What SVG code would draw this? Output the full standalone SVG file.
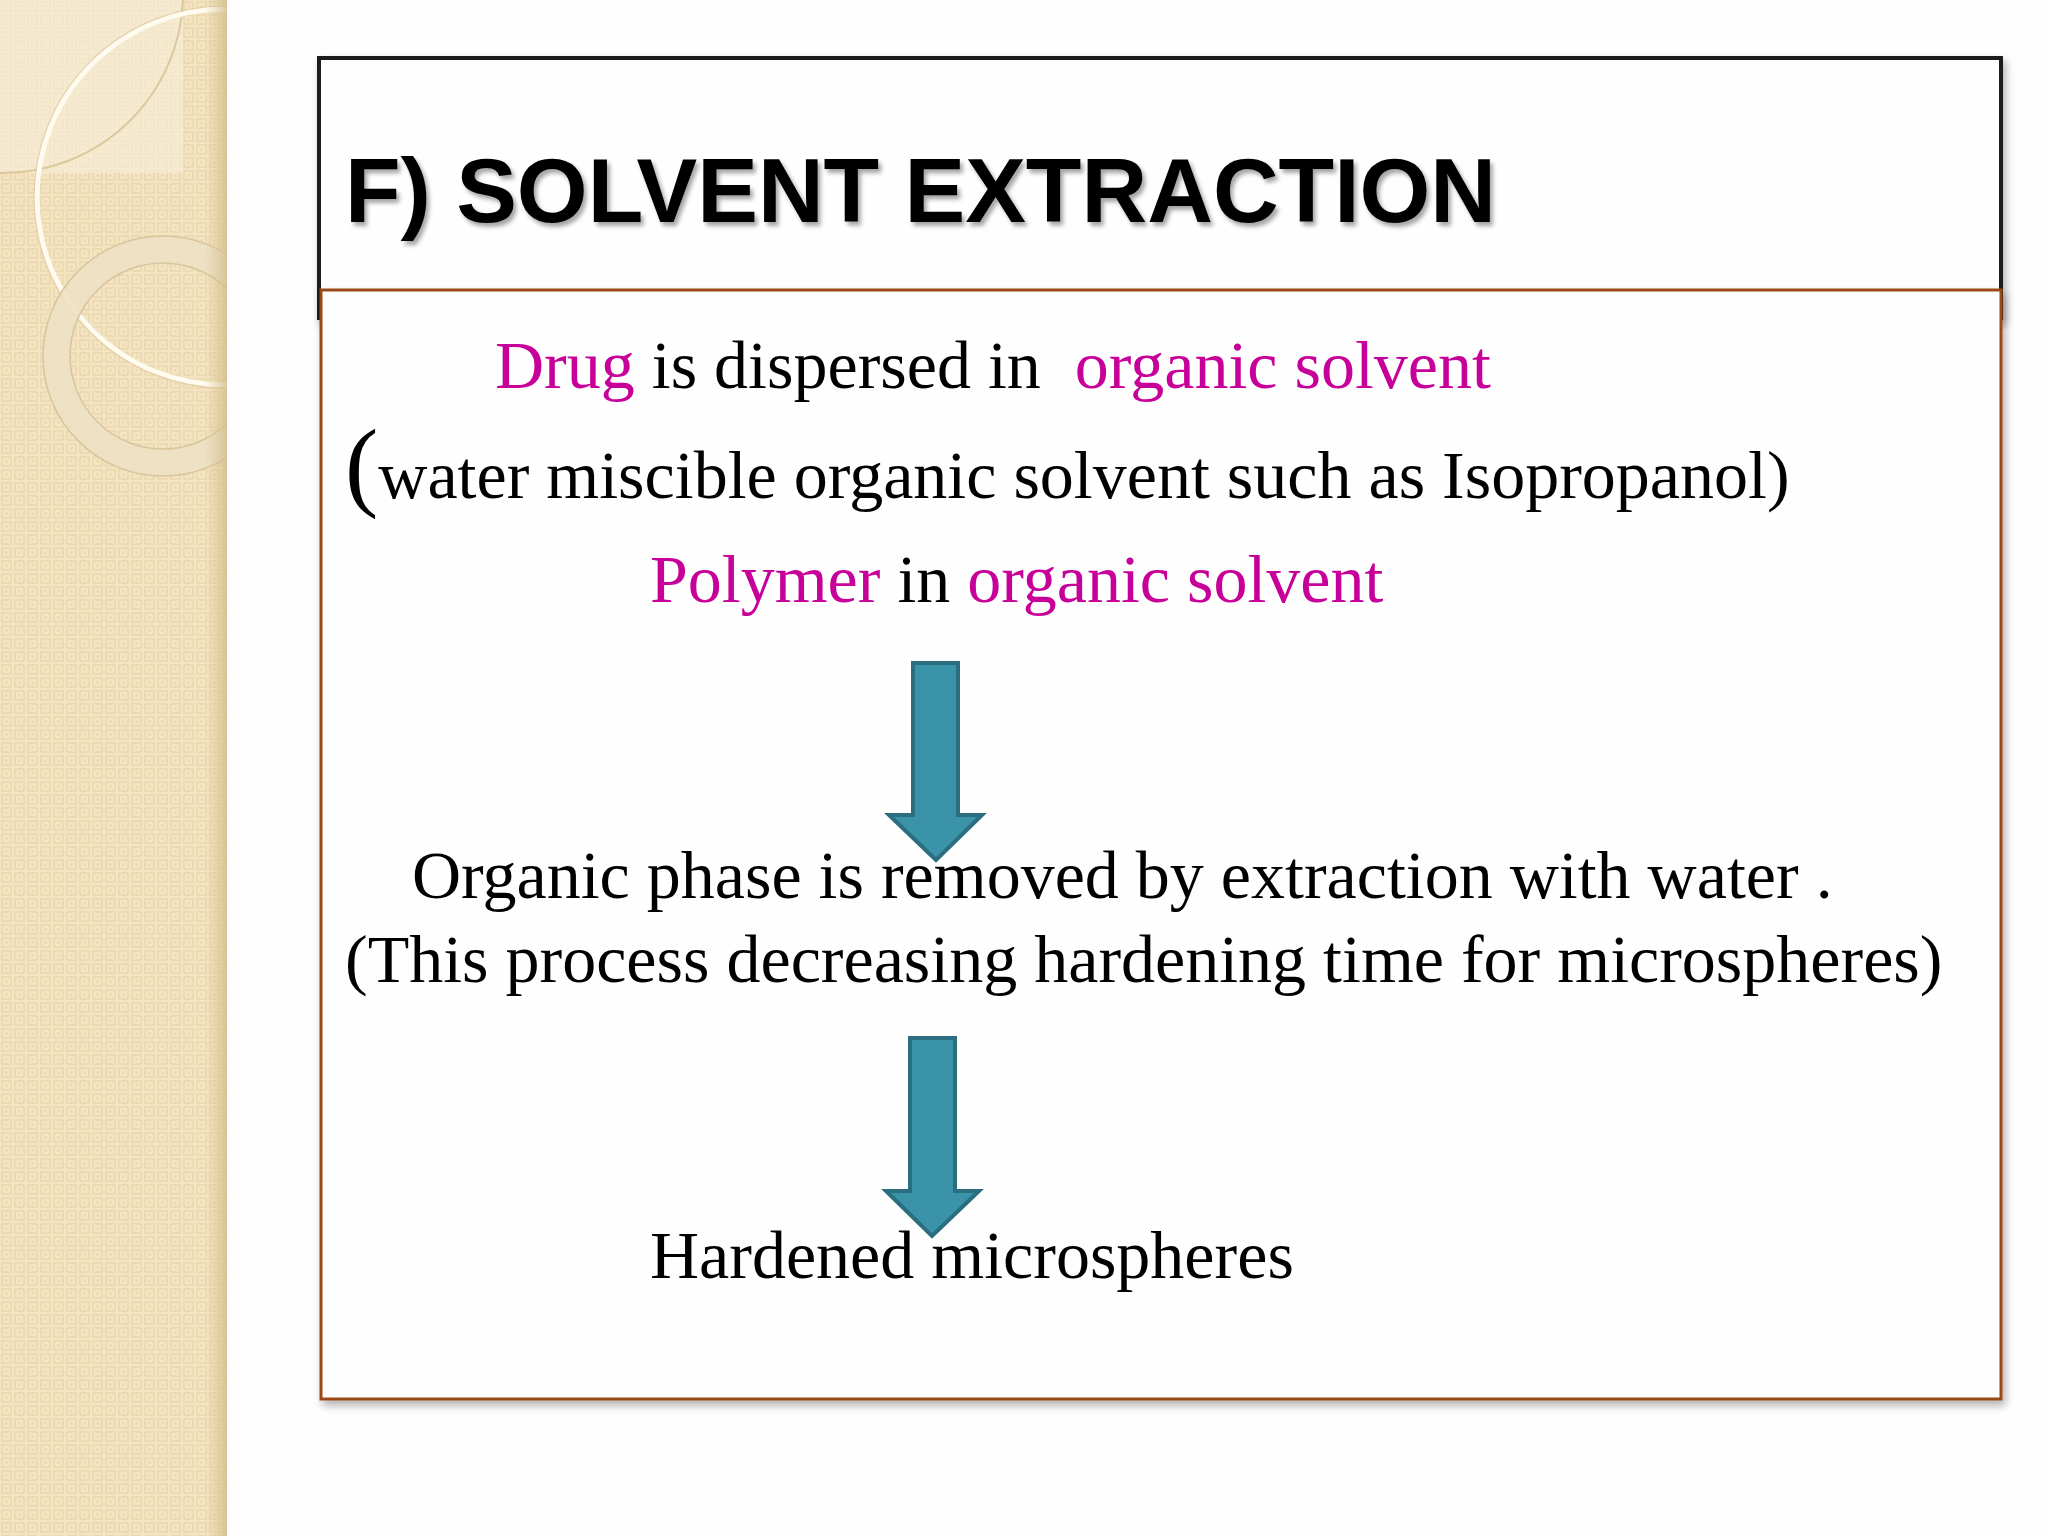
<svg xmlns="http://www.w3.org/2000/svg" width="2048" height="1536" viewBox="0 0 2048 1536">
<defs>
<style>
.serif{font-family:"Liberation Serif","Times New Roman",serif;font-size:68px;fill:#000;white-space:pre}
.pink{fill:#C8009A}
.title{font-family:"Liberation Sans",Arial,sans-serif;font-weight:bold;font-size:91px;fill:#000}
.arrow{fill:#3A93A8;stroke:#2B6E80;stroke-width:4;stroke-linejoin:miter}
</style>
<pattern id="weave" x="0" y="0" width="13" height="13" patternUnits="userSpaceOnUse">
<rect width="13" height="13" fill="#F4E4C1"/>
<rect x="2" y="2" width="9" height="9" fill="none" stroke="#EAD7AE" stroke-width="1.5"/>
<rect x="5.5" y="5.5" width="2" height="2" fill="#E8D4A8"/>
</pattern>
<linearGradient id="edge" x1="0" y1="0" x2="1" y2="0">
<stop offset="0" stop-color="#D9C393" stop-opacity="0"/>
<stop offset="1" stop-color="#D2BC8C" stop-opacity="0.8"/>
</linearGradient>
<clipPath id="stripClip"><rect x="0" y="0" width="227" height="1536"/></clipPath>
<filter id="boxShadow" x="-5%" y="-5%" width="110%" height="110%">
<feDropShadow dx="3" dy="5" stdDeviation="4" flood-color="#000" flood-opacity="0.3"/>
</filter>
<filter id="textShadow" x="-5%" y="-20%" width="110%" height="140%">
<feDropShadow dx="3" dy="4" stdDeviation="2" flood-color="#000" flood-opacity="0.35"/>
</filter>
</defs>
<rect width="2048" height="1536" fill="#FDFEFD"/>
<g id="left-strip" clip-path="url(#stripClip)">
<rect x="0" y="0" width="227" height="1536" fill="url(#weave)"/>
<rect x="0" y="0" width="183" height="173" fill="#F7EDD6" opacity="0.7"/>
<path d="M183,0 A180,180 0 0 1 0,173" fill="none" stroke="#DCC89E" stroke-width="2"/>
<circle cx="225" cy="197" r="188" fill="none" stroke="#FFFBF0" stroke-width="5"/>
<circle cx="225" cy="197" r="191" fill="none" stroke="#DCC89E" stroke-width="1.2" opacity="0.7"/>
<circle cx="163" cy="356" r="106.5" fill="none" stroke="#EDE0C4" stroke-width="27" opacity="0.9"/>
<circle cx="163" cy="356" r="120" fill="none" stroke="#D8C59C" stroke-width="1.5"/>
<circle cx="163" cy="356" r="93" fill="none" stroke="#D8C59C" stroke-width="1.5"/>
<rect x="205" y="0" width="22" height="1536" fill="url(#edge)"/>
</g>
<g id="title-box">
<rect x="319" y="58" width="1682" height="260" fill="#FDFEFD" stroke="#1E1E1E" stroke-width="4" filter="url(#boxShadow)"/>
<text class="title" x="345" y="222" filter="url(#textShadow)">F) SOLVENT EXTRACTION</text>
</g>
<g id="content-box">
<rect x="321" y="290" width="1680" height="1109" fill="#FEFEFE" stroke="#9A4A12" stroke-width="3" filter="url(#boxShadow)"/>
</g>
<g id="node-drug">
<text class="serif" x="495" y="388"><tspan class="pink">Drug</tspan> is dispersed in  <tspan class="pink">organic solvent</tspan></text>
</g>
<g id="node-water">
<text class="serif" x="345" y="498"><tspan style="font-size:100px">(</tspan>water miscible organic solvent such as Isopropanol)</text>
</g>
<g id="node-polymer">
<text class="serif" x="650" y="602"><tspan class="pink">Polymer</tspan> in <tspan class="pink">organic solvent</tspan></text>
</g>
<g id="node-organic-phase">
<text class="serif" x="412" y="898">Organic phase is removed by extraction with water .</text>
<text class="serif" x="345" y="982">(This process decreasing hardening time for microspheres)</text>
</g>
<g id="node-hardened">
<text class="serif" x="650" y="1278">Hardened microspheres</text>
</g>
<g id="connectors">
<path class="arrow" d="M913,663 H958 V815 H982 L936,860 L889,815 H913 Z"/>
<path class="arrow" d="M910,1038 H955 V1191 H979 L932,1236 L886,1191 H910 Z"/>
</g>
</svg>
